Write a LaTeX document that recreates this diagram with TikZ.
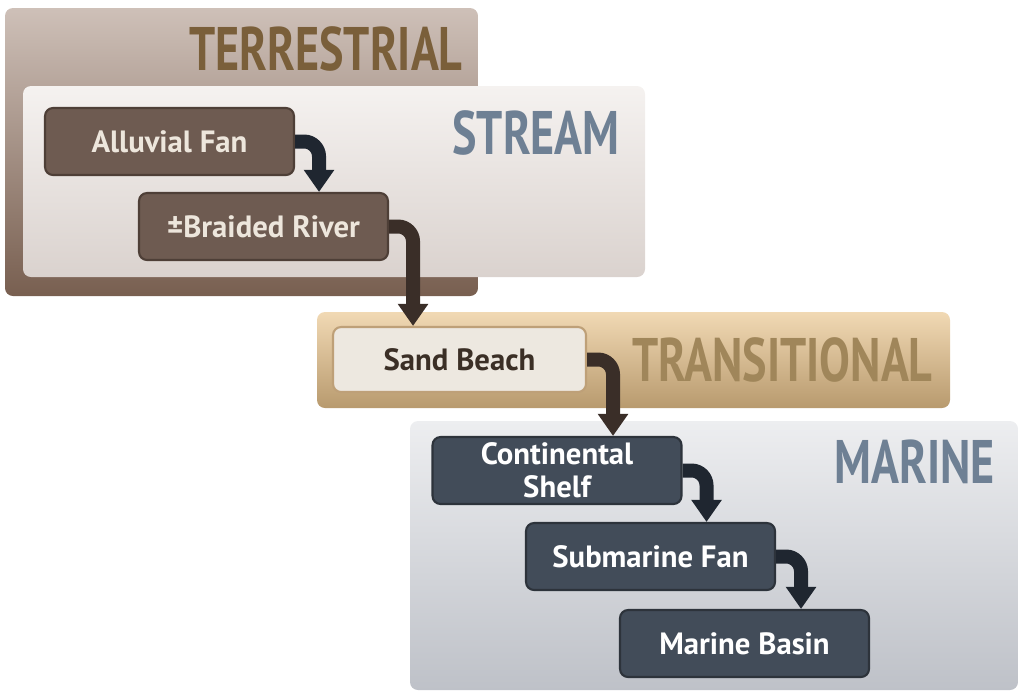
\documentclass[tikz,border=0pt]{standalone}
\usepackage{fontspec}
\setmainfont{PT Sans}
\newfontfamily\titlefont[FakeStretch=0.75]{PT Sans}
\usetikzlibrary{arrows.meta,calc}

\definecolor{terrTop}{RGB}{206,192,184}
\definecolor{terrBot}{RGB}{120,95,80}
\definecolor{streamTop}{RGB}{245,242,240}
\definecolor{streamBot}{RGB}{218,210,206}
\definecolor{transTop}{RGB}{241,217,180}
\definecolor{transBot}{RGB}{184,154,110}
\definecolor{marineTop}{RGB}{237,238,240}
\definecolor{marineBot}{RGB}{190,193,200}
\definecolor{terrText}{RGB}{122,95,58}
\definecolor{slateText}{RGB}{110,128,148}
\definecolor{transText}{RGB}{160,134,90}
\definecolor{brownBox}{RGB}{110,91,81}
\definecolor{brownLine}{RGB}{78,63,55}
\definecolor{creamText}{RGB}{237,230,220}
\definecolor{beachFill}{RGB}{237,232,224}
\definecolor{beachLine}{RGB}{190,160,120}
\definecolor{beachText}{RGB}{59,47,38}
\definecolor{navyBox}{RGB}{66,76,89}
\definecolor{navyLine}{RGB}{45,51,59}
\definecolor{navyArrow}{RGB}{31,38,48}
\definecolor{brownArrow}{RGB}{58,46,40}

\tikzset{
  zone/.style={rounded corners=0.16cm},
  zonetitle/.style={anchor=east,inner sep=0pt,font=\titlefont\fontsize{35}{35}\selectfont\bfseries},
  stage/.style={draw,line width=1.2pt,rounded corners=0.16cm,minimum width=4.98cm,minimum height=1.34cm,
    inner sep=1pt,align=center,font=\fontsize{17.5}{19}\selectfont\bfseries},
  landstage/.style={stage,fill=brownBox,draw=brownLine,text=creamText},
  seastage/.style={stage,fill=navyBox,draw=navyLine,text=white},
  flow/.style={line width=0.28cm,rounded corners=0.3cm,-{Triangle[width=0.58cm,length=0.44cm]}},
}

\begin{document}
\begin{tikzpicture}[x=0.02cm,y=-0.02cm]
\useasboundingbox (0,0) rectangle (1024,698);

\shade[zone,top color=terrTop,bottom color=terrBot] (5,8) rectangle (478,296);
\node[zonetitle,text=terrText] (terrtitle) at (463,49) {TERRESTRIAL};

\shade[zone,top color=streamTop,bottom color=streamBot] (23,86) rectangle (645,277);
\node[zonetitle,text=slateText] (streamtitle) at (620,133) {STREAM};

\shade[zone,top color=transTop,bottom color=transBot] (317,312) rectangle (950,408);
\node[zonetitle,text=transText] (transtitle) at (933,360) {TRANSITIONAL};

\shade[zone,top color=marineTop,bottom color=marineBot] (410,421) rectangle (1018,690);
\node[zonetitle,text=slateText] (marinetitle) at (995,462) {MARINE};

\node[landstage] (fan) at (169.5,141.5) {Alluvial Fan};
\node[landstage] (river) at (263.5,226.5) {±Braided River};
\node[stage,fill=beachFill,draw=beachLine,text=beachText,minimum width=5.06cm,minimum height=1.3cm] (beach) at (459.5,359.5) {Sand Beach};
\node[seastage] (shelf) at (557,470.5) {Continental\\Shelf};
\node[seastage] (subfan) at (650.5,556.5) {Submarine Fan};
\node[seastage] (basin) at (744.5,643.5) {Marine Basin};

\coordinate (c1) at ($(fan.east)+(24,0)$);
\coordinate (c2) at ($(river.east)+(24,0)$);
\coordinate (c3) at ($(beach.east)+(26,0)$);
\coordinate (c4) at ($(shelf.east)+(24,0)$);
\coordinate (c5) at ($(subfan.east)+(25,0)$);

\draw[flow,navyArrow] (fan.east) -| (c1 |- river.north);
\draw[flow,brownArrow] (river.east) -| (c2 |- beach.north);
\draw[flow,brownArrow] (beach.east) -| (c3 |- shelf.north);
\draw[flow,navyArrow] (shelf.east) -| (c4 |- subfan.north);
\draw[flow,navyArrow] (subfan.east) -| (c5 |- basin.north);
\end{tikzpicture}
\end{document}
